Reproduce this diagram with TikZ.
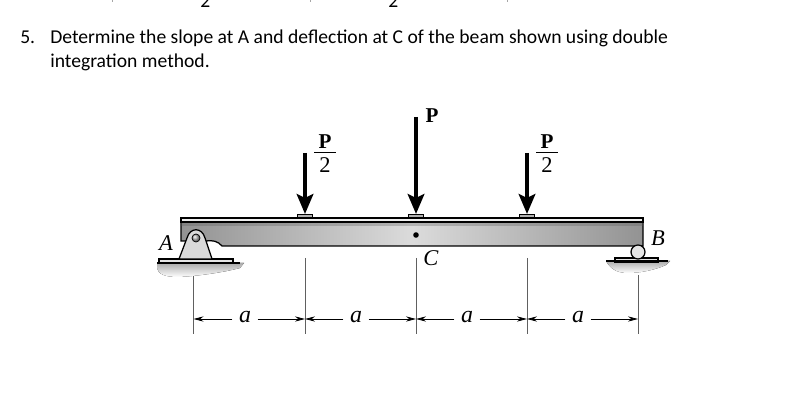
\documentclass[tikz,border=0pt]{standalone}
\usepackage{fontspec}
\setmainfont{Liberation Serif}
\newfontfamily\pagefont{Carlito}
\usetikzlibrary{positioning,arrows.meta}

\begin{document}
\begin{tikzpicture}[x=0.025cm,y=-0.025cm,>=Stealth]
  \tikzstyle{body}=[font=\pagefont\fontsize{13.95}{16}\selectfont,anchor=base west,inner sep=0pt]
  \tikzstyle{dimline}=[gray!75!black,line width=0.7pt]
  \tikzstyle{dimarrow}=[->,black,line width=0.6pt,>={Stealth[length=0.25cm,width=0.13cm]}]
  \tikzstyle{load}=[->,line width=2.2pt,>={Stealth[length=0.5cm,width=0.42cm,inset=0.1cm]}]
  \tikzstyle{pad}=[draw,fill=gray!60,line width=0.7pt,minimum width=0.37cm,minimum height=0.08cm,inner sep=0pt]
  \tikzstyle{lbl}=[font=\fontsize{16}{18}\selectfont\itshape,inner sep=0pt]
  \tikzstyle{dimlbl}=[font=\fontsize{17}{18}\selectfont\itshape,inner sep=0pt,minimum width=0.62cm]
  \tikzstyle{force}=[font=\fontsize{15}{16}\selectfont\bfseries,inner sep=0pt]
  \tikzstyle{digit}=[font=\fontsize{16}{16}\selectfont,inner sep=0pt]
  \tikzstyle{ground}=[top color=gray!65,bottom color=white,draw=none]

  \clip (0,0) rectangle (798,400);
  \useasboundingbox (0,0) rectangle (798,400);

  % text of the page
  \node[body] (num) at (20,44) {5.};
  \node[body] (line1) at (50,44) {Determine the slope at A and deflection at C of the beam shown using double};
  \node[body] (line2) at (50,68) {integration method.};
  \node[body] (cutL) at (200,8) {2};
  \node[body] (cutR) at (388,8) {2};
  \draw[gray!70,line width=0.4pt] (112,0) -- (112,2);
  \draw[gray!70,line width=0.4pt] (310,0) -- (310,2);
  \draw[gray!70,line width=0.4pt] (507,0) -- (507,2);

  % ground
  \fill[ground] (157,263) -- (244,263) -- (240,268) .. controls (225,272) and (200,276) .. (178,277) .. controls (165,277) and (158,274) .. (157,268) -- cycle;
  \fill[ground] (606,261) -- (670,261) -- (666,265) .. controls (655,270) and (640,273) .. (628,273) .. controls (616,273) and (610,268) .. (606,261) -- cycle;

  % beam
  \draw[line width=0.9pt,left color=gray!85,right color=gray!85,middle color=gray!28]
    (181,218) -- (643,218) -- (643,246) -- (222,246) .. controls (218,241) and (212,240) .. (206,241) -- (181,241) -- cycle;
  \fill[gray!70!black,opacity=0.3] (181,222) rectangle (643,226);
  \draw[line width=0.8pt,fill=gray!12] (181,218) rectangle (643,222);
  \fill (416,235) circle (2.8);

  % supports
  \draw[line width=0.8pt,fill=gray!20] (159,259) rectangle (233,263);
  \draw[line width=0.8pt] (157,263) -- (240,263);
  \draw[line width=0.9pt,fill=gray!30] (179,259) -- (187,238) .. controls (190,227) and (202,227) .. (205,238) -- (212,259) -- cycle;
  \draw[line width=0.5pt,ball color=gray!60] (196,238) circle (4);
  \draw[line width=0.8pt,fill=gray!20] (615,258) rectangle (658,262);
  \draw[line width=0.8pt] (606,261) -- (668,261);
  \draw[line width=0.9pt,fill=gray!20] (638,252) circle (7);

  % loads
  \node[pad] (padL) at (305,216) {};
  \node[pad] (padM) at (416,216) {};
  \node[pad] (padR) at (527,216) {};
  \coordinate (topL) at (305,153);
  \coordinate (topM) at (416,117);
  \coordinate (topR) at (527,153);
  \draw[load] (topL) -- (padL.north);
  \draw[load] (topM) -- (padM.north);
  \draw[load] (topR) -- (padR.north);
  \node[force] (pM) at (432,116) {P};
  \node[force] (pL) at (325,142) {P};
  \node[digit] (twoL) at (325,165) {2};
  \draw[line width=0.6pt] (314,152) -- (336,152);
  \node[force] (pR) at (547,142) {P};
  \node[digit] (twoR) at (547,165) {2};
  \draw[line width=0.6pt] (536,152) -- (558,152);

  % point labels
  \node[lbl] (A) at (166,243) {A};
  \node[lbl] (B) at (658,238) {B};
  \node[lbl] (C) at (431,258) {C};

  % dimensions
  \coordinate (e0) at (193.5,276);
  \coordinate (e1) at (305,258);
  \coordinate (e2) at (416,258);
  \coordinate (e3) at (527,258);
  \coordinate (e4) at (638,275);
  \foreach \n/\x in {0/193.5,1/305,2/416,3/527,4/638}
    \coordinate (b\n) at (\x,334);
  \foreach \n in {0,...,4}
    \draw[dimline] (e\n) -- (b\n);
  \foreach \n/\x in {0/193.5,1/305,2/416,3/527,4/638}
    \coordinate (d\n) at (\x,319);
  \node[dimlbl] (a1) at (245,317) {a};
  \node[dimlbl] (a2) at (356,317) {a};
  \node[dimlbl] (a3) at (467,317) {a};
  \node[dimlbl] (a4) at (578,317) {a};
  \draw[dimarrow] (a1.west |- d0) -- (d0);
  \draw[dimarrow] (a1.east |- d1) -- (d1);
  \draw[dimarrow] (a2.west |- d1) -- (d1);
  \draw[dimarrow] (a2.east |- d2) -- (d2);
  \draw[dimarrow] (a3.west |- d2) -- (d2);
  \draw[dimarrow] (a3.east |- d3) -- (d3);
  \draw[dimarrow] (a4.west |- d3) -- (d3);
  \draw[dimarrow] (a4.east |- d4) -- (d4);
\end{tikzpicture}
\end{document}
